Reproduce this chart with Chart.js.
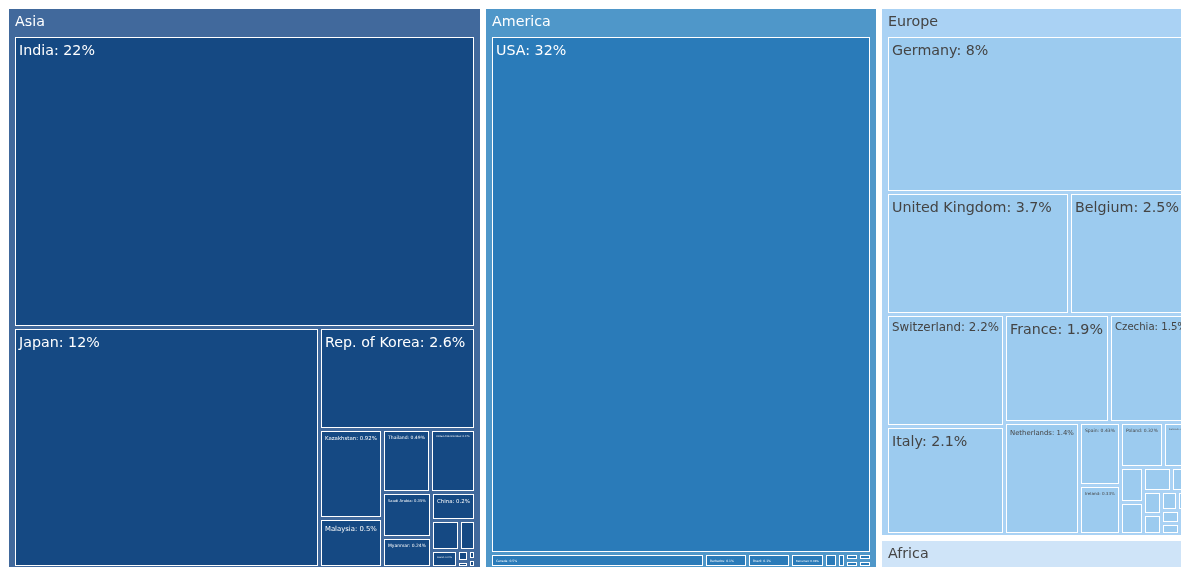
<!DOCTYPE html>
<html>
<head>
<meta charset="utf-8">
<script src="https://cdn.jsdelivr.net/npm/chart.js@4.4.1/dist/chart.umd.min.js"></script>
<style>
  html, body { margin: 0; padding: 0; background: #fff; overflow: hidden; }
  canvas { display: block; }
</style>
</head>
<body>
<canvas id="treeCanvas" width="1181" height="567"></canvas>
<script>
// share of total, in percent
const continents = ['Asia', 'America', 'Europe', 'Africa'];

const asiaCountries = ['India', 'Japan', 'Rep. of Korea', 'Kazakhstan', 'Malaysia', 'Thailand',
  'United Arab Emirates', 'Saudi Arabia', 'Myanmar', 'China', 'Singapore', 'Qatar', 'Kuwait',
  'Israel', 'Oman', 'Bahrain', 'Jordan'];
const asiaShares = [22, 12, 2.6, 0.92, 0.5, 0.49, 0.47, 0.35, 0.24, 0.2, 0.14, 0.08, 0.07,
  0.02, 0.01, 0.01, 0.01];

const americaCountries = ['USA', 'Canada', 'Barbados', 'Brazil', 'Bahamas', 'Mexico', 'Chile',
  'Argentina', 'Colombia', 'Peru', 'Uruguay'];
const americaShares = [32.4, 0.5, 0.1, 0.1, 0.08, 0.03, 0.02, 0.015, 0.015, 0.015, 0.015];

const europeCountries = ['Germany', 'United Kingdom', 'Belgium', 'Switzerland', 'Italy', 'France',
  'Czechia', 'Netherlands', 'Spain', 'Ireland', 'Poland', 'Denmark', 'Austria', 'Latvia',
  'Luxembourg', 'Bulgaria', 'Slovakia', 'Sweden', 'Portugal', 'Hungary', 'Lithuania',
  'Estonia', 'Slovenia', 'Romania'];
const europeShares = [8, 3.7, 2.5, 2.2, 2.1, 1.9, 1.5, 1.4, 0.43, 0.33, 0.32, 0.22, 0.13, 0.12,
  0.11, 0.08, 0.07, 0.06, 0.05, 0.05, 0.04, 0.03, 0.03, 0.02];

const africaCountries = ['South Africa', 'Morocco', 'Egypt', 'Tunisia'];
const africaShares = [0.7, 0.4, 0.3, 0.2];

// styles
const groupColors = ['#41699c', '#4f97c9', '#aad2f4', '#cfe4f8'];
const leafColors = ['#154983', '#2a7bb9', '#9ccbef', '#c4ddf3'];
const textColors = ['#ffffff', '#ffffff', '#444444', '#444444'];
const FONT = '"DejaVu Sans", sans-serif';
const MAX_FONT = 14.25;

const groupLists = [
  [asiaCountries, asiaShares],
  [americaCountries, americaShares],
  [europeCountries, europeShares],
  [africaCountries, africaShares]
];

const root = {
  name: 'root',
  children: continents.map((c, i) => {
    const kids = groupLists[i][0].map((n, j) => ({ name: n, value: groupLists[i][1][j], group: i }))
      .sort((a, b) => b.value - a.value);
    return { name: c, group: i, children: kids, value: kids.reduce((s, k) => s + k.value, 0) };
  }).sort((a, b) => b.value - a.value)
};
root.value = root.children.reduce((s, k) => s + k.value, 0);

// squarified tiling (d3 style, ratio 1)
function squarify(nodes, x0, y0, x1, y1) {
  let value = nodes.reduce((s, d) => s + d.value, 0);
  let i0 = 0, i1 = 0;
  const n = nodes.length;
  while (i0 < n) {
    const dx = x1 - x0, dy = y1 - y0;
    let sumValue = nodes[i1++].value;
    let minValue = sumValue, maxValue = sumValue;
    const alpha = Math.max(dy / dx, dx / dy) / value;
    let beta = sumValue * sumValue * alpha;
    let minRatio = Math.max(maxValue / beta, beta / minValue);
    for (; i1 < n; ++i1) {
      const v = nodes[i1].value;
      sumValue += v;
      if (v < minValue) minValue = v;
      if (v > maxValue) maxValue = v;
      beta = sumValue * sumValue * alpha;
      const newRatio = Math.max(maxValue / beta, beta / minValue);
      if (newRatio > minRatio) { sumValue -= v; break; }
      minRatio = newRatio;
    }
    const row = nodes.slice(i0, i1);
    if (dx < dy) {
      const yy = y0 + dy * sumValue / value;
      let x = x0;
      row.forEach(d => { d.y0 = y0; d.y1 = yy; d.x0 = x; x += (x1 - x0) * d.value / sumValue; d.x1 = x; });
      y0 = yy;
    } else {
      const xx = x0 + dx * sumValue / value;
      let y = y0;
      row.forEach(d => { d.x0 = x0; d.x1 = xx; d.y0 = y; y += (y1 - y0) * d.value / sumValue; d.y1 = y; });
      x0 = xx;
    }
    value -= sumValue;
    i0 = i1;
  }
}

const pads = [
  { t: 0, l: 0, r: 0, b: 0, inner: 4 },   // root
  { t: 29, l: 7, r: 7, b: 3, inner: 3 }   // continents
];

function layout(node, depth) {
  if (!node.children) return;
  const pd = pads[depth];
  const p = pd.inner / 2;
  squarify(node.children, node.x0 + pd.l - p, node.y0 + pd.t - p, node.x1 - pd.r + p, node.y1 - pd.b + p);
  node.children.forEach(c => {
    c.x0 += p; c.y0 += p; c.x1 -= p; c.y1 -= p;
    layout(c, depth + 1);
  });
}

// area of the treemap in axis units (runs past the right edge, as the original is cropped)
root.x0 = 8; root.y0 = 8; root.x1 = 1198; root.y1 = 569;
layout(root, 0);

function fmtShare(v) {
  return parseFloat(v.toPrecision(2)) + '%';
}

const treemapPlugin = {
  id: 'treemapPlugin',
  afterDatasetsDraw(chart) {
    const ctx = chart.ctx;
    const xs = chart.scales.x, ys = chart.scales.y;
    const box = d => {
      const a = Math.round(xs.getPixelForValue(d.x0)), b = Math.round(xs.getPixelForValue(d.x1));
      const c = Math.round(ys.getPixelForValue(d.y0)), e = Math.round(ys.getPixelForValue(d.y1));
      return { x: a, y: c, w: b - a, h: e - c };
    };
    ctx.save();
    root.children.forEach(g => {
      const r = box(g);
      ctx.fillStyle = groupColors[g.group];
      ctx.fillRect(r.x, r.y, r.w, r.h);
      ctx.strokeStyle = '#ffffff';
      ctx.lineWidth = 1;
      ctx.strokeRect(r.x + 0.5, r.y + 0.5, r.w - 1, r.h - 1);
      ctx.fillStyle = textColors[g.group];
      ctx.font = MAX_FONT + 'px ' + FONT;
      ctx.textBaseline = 'alphabetic';
      ctx.fillText(g.name, r.x + 7, r.y + 17.5);

      g.children.forEach(d => {
        const q = box(d);
        if (q.w <= 0 || q.h <= 0) return;
        ctx.fillStyle = leafColors[d.group];
        ctx.fillRect(q.x, q.y, q.w, q.h);
        ctx.strokeStyle = '#ffffff';
        ctx.strokeRect(q.x + 0.5, q.y + 0.5, q.w - 1, q.h - 1);
        const label = d.name + ': ' + fmtShare(d.value);
        ctx.font = MAX_FONT + 'px ' + FONT;
        const tw = ctx.measureText(label).width;
        let size = Math.min(MAX_FONT, MAX_FONT * (q.w - 8) / tw, q.h - 8);
        if (size < 2) return;
        ctx.font = size.toFixed(2) + 'px ' + FONT;
        ctx.fillStyle = textColors[d.group];
        ctx.fillText(label, q.x + 4, q.y + 4 + size * 0.95);
      });
    });
    ctx.restore();
  }
};

new Chart(document.getElementById('treeCanvas').getContext('2d'), {
  type: 'scatter',
  data: { datasets: [{ data: [] }] },
  options: {
    responsive: false,
    animation: false,
    events: [],
    layout: { padding: 0 },
    plugins: { legend: { display: false }, tooltip: { enabled: false } },
    scales: {
      x: { type: 'linear', min: 0, max: 1181, display: false },
      y: { type: 'linear', min: 0, max: 567, reverse: true, display: false }
    }
  },
  plugins: [treemapPlugin]
});
</script>
</body>
</html>
